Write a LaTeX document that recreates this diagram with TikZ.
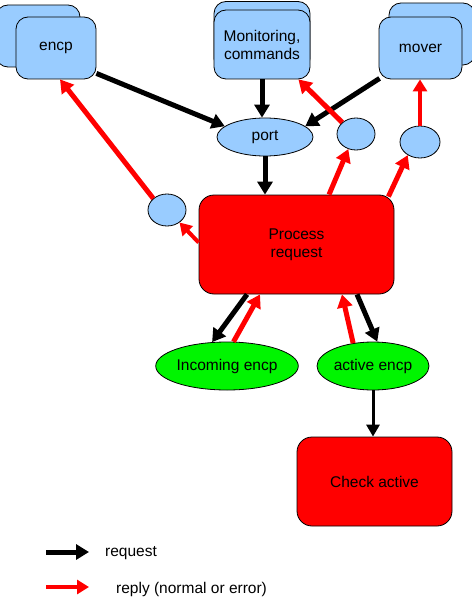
\documentclass[tikz,border=0pt]{standalone}
\usepackage{fontspec}
\setmainfont{Liberation Sans}
\usetikzlibrary{arrows.meta,shapes.geometric,calc}
\definecolor{boxblue}{RGB}{153,204,255}
\definecolor{pred}{RGB}{255,0,0}
\definecolor{egreen}{RGB}{0,245,0}
\tikzset{
  base/.style={draw=black, line width=0.8pt, inner sep=0pt, align=center,
    font=\fontsize{15.5}{18}\selectfont},
  bluebox/.style={base, fill=boxblue, rounded corners=12pt},
  blueell/.style={base, ellipse, fill=boxblue},
  redbox/.style={base, fill=pred, rounded corners=15pt},
  greenell/.style={base, ellipse, fill=egreen},
  req/.style={draw=black, line width=5pt, -{Triangle[length=13pt,width=15pt]}},
  rep/.style={draw=pred, line width=5pt, -{Triangle[length=13pt,width=15pt]}},
  reqthin/.style={draw=black, line width=3pt, -{Triangle[length=12pt,width=13pt]}},
  repthin/.style={draw=pred, line width=4pt, -{Triangle[length=12pt,width=14pt]}},
  legtext/.style={anchor=west, inner sep=0pt, font=\fontsize{15.5}{18}\selectfont}
}
\begin{document}
\begin{tikzpicture}[x=1pt,y=-1pt]
\useasboundingbox (0,0) rectangle (471,604);
% stacked boxes
\node[bluebox, minimum width=84pt, minimum height=62pt] (encpB) at (38,36) {};
\node[bluebox, minimum width=80pt, minimum height=62pt] (encp) at (56,48) {encp};
\node[bluebox, minimum width=96pt, minimum height=69pt] (monB) at (262,36) {};
\node[bluebox, minimum width=96pt, minimum height=69pt] (mon) at (262,44.5) {Monitoring,\\commands};
\node[bluebox, minimum width=86pt, minimum height=62pt] (moverB) at (432,34) {};
\node[bluebox, minimum width=83pt, minimum height=62pt] (mover) at (420.5,48) {mover};
% ellipses
\node[blueell, minimum width=96pt, minimum height=38pt] (port) at (265,137) {port};
\node[blueell, minimum width=38pt, minimum height=32pt] (e1) at (356,134) {};
\node[blueell, minimum width=40pt, minimum height=32pt] (e2) at (420,142) {};
\node[blueell, minimum width=38pt, minimum height=32pt] (e3) at (167,210) {};
% process
\node[redbox, minimum width=195pt, minimum height=99pt] (proc) at (296.5,244.5) {Process\\request};
\node[greenell, minimum width=112pt, minimum height=48pt] (inc) at (227,366) {Incoming encp};
\node[greenell, minimum width=112pt, minimum height=48pt] (act) at (373,366) {active encp};
\node[redbox, minimum width=155pt, minimum height=89pt] (chk) at (374.5,481.5) {Check active};
% requests
\draw[req] ([yshift=6pt]encp.south east) -- (port.165);
\draw[req] (mon.south) -- (mon.south |- port.north);
\draw[req] ([xshift=1pt,yshift=1pt]mover.south west) -- (port.15);
\draw[req] (port.south) -- (port.south |- proc.north);
\draw[req] ([xshift=-49.5pt]proc.south) -- (inc.122);
\draw[req] ([xshift=60.5pt]proc.south) -- (act.80);
\draw[reqthin] (act.south) -- (act.south |- chk.north);
% replies
\draw[rep] (e1.140) -- ([xshift=-12pt]mon.south east);
\draw[repthin] (e2.north) -- (e2.north |- mover.south);
\draw[rep] ([xshift=32.5pt]proc.north) -- (e1.243);
\draw[rep] ([xshift=-6pt,yshift=-2pt]proc.north east) -- (e2.227);
\draw[repthin] ([yshift=2pt]proc.west) -- (e3.-45);
\draw[rep] (e3.140) -- ([xshift=4pt]encp.south);
\draw[rep] (inc.75) -- ([xshift=-36.5pt]proc.south);
\draw[rep] (act.131) -- ([xshift=45.5pt]proc.south);
% legend
\coordinate (l1a) at (46,552);
\coordinate (l1b) at (89,552);
\coordinate (l2a) at (46,587);
\coordinate (l2b) at (89,587);
\draw[req] (l1a) -- (l1b);
\draw[repthin] (l2a) -- (l2b);
\node[legtext] (lt1) at (105,553) {request};
\node[legtext] (lt2) at (116,589) {reply (normal or error)};
\end{tikzpicture}
\end{document}
